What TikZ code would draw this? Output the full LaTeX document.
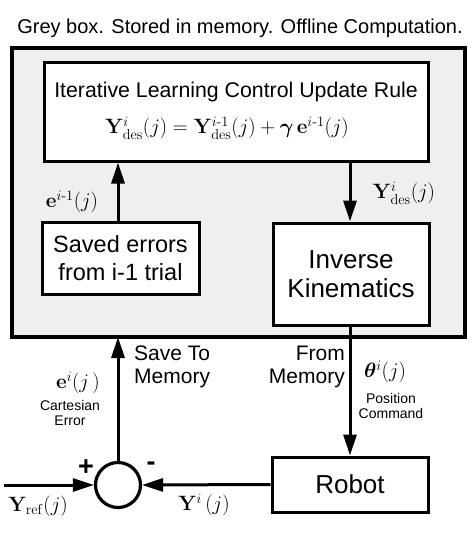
\documentclass[tikz,border=0pt]{standalone}
\usepackage{amsmath,bm}
\usepackage[no-math]{fontspec}
\newfontfamily\arialf{Liberation Sans}
\usetikzlibrary{arrows.meta}
\definecolor{greyfill}{HTML}{EEF0F0}
\tikzset{
  blk/.style={draw, line width=3pt, fill=white, inner sep=0pt},
  conn/.style={line width=3pt, -{Triangle[length=21pt,width=13pt]}},
  plain/.style={line width=3pt},
  lbl/.style={inner sep=0pt, font=\arialf},
}
\newcommand{\fsz}[1]{\fontsize{#1}{#1}\selectfont}
\begin{document}
\begin{tikzpicture}[x=1pt,y=-1pt]
\useasboundingbox (0,0) rectangle (474,536);
% title
\node[lbl, font=\arialf\fsz{20}] (title) at (240,28) {Grey box. Stored in memory. Offline Computation.};
% grey box
\draw[line width=3.8pt, fill=greyfill] (12,48) rectangle (465,337);
\coordinate (greybot) at (118,337);
% ILC box
\node[blk, minimum width=384pt, minimum height=99pt] (ilc) at (236,111.5) {};
\node[lbl, font=\arialf\fsz{21.3}] (ilct) at (236,92) {Iterative Learning Control Update Rule};
\node[lbl, font=\fsz{20.7}] (ilceq) at (227,128) {$\mathbf{Y}^{i}_{\mathrm{des}}(j) = \mathbf{Y}^{i\text{-}1}_{\mathrm{des}}(j) + \boldsymbol{\gamma}\,\mathbf{e}^{i\text{-}1}(j)$};
% saved errors
\node[blk, minimum width=157pt, minimum height=72pt, align=center, font=\arialf\fsz{23.5}] (saved) at (120.5,258) {Saved errors\\[4pt]from i-1 trial};
% inverse kinematics
\node[blk, minimum width=156pt, minimum height=102pt, align=center, font=\arialf\fsz{26}] (ik) at (351,274) {Inverse\\[3pt]Kinematics};
% robot
\node[blk, minimum width=156pt, minimum height=55pt, font=\arialf\fsz{26}] (robot) at (350,484.5) {Robot};
% summing junction
\node[draw, circle, line width=3.2pt, minimum size=45pt, inner sep=0pt] (sum) at (118,485) {};
\coordinate (inp) at (4,485);
% connectors
\draw[conn] (saved.north -| 118,0) -- (ilc.south -| 118,0);
\draw[conn] (ilc.south -| 350,0) -- (ik.north -| 350,0);
\draw[conn] (sum.north) -- (greybot);
\draw[conn] (ik.south -| 350,0) -- (robot.north -| 350,0);
\draw[conn] (robot.west) -- (sum.east);
\draw[conn] (inp) -- (sum.west);
% labels
\node[lbl, font=\fsz{21}] (lerr) at (72,202) {$\mathbf{e}^{i\text{-}1}(j)$};
\node[lbl, font=\fsz{21}] (lydes) at (404,193) {$\mathbf{Y}^{i}_{\mathrm{des}}(j)$};
\node[lbl, font=\arialf\fsz{21}, align=left, anchor=west] (lsave) at (134,367) {Save To\\[2pt]Memory};
\node[lbl, font=\arialf\fsz{21}, align=right, anchor=east] (lfrom) at (345,367) {From\\[2pt]Memory};
\node[lbl, font=\fsz{21}] (ltheta) at (385,372) {$\boldsymbol{\theta}^{i}(j)$};
\node[lbl, font=\arialf\fsz{14}, align=center] (lpos) at (391,406) {Position\\[1pt]Command};
\node[lbl, font=\fsz{21}] (lei) at (78,383) {$\mathbf{e}^{i}(j\,)$};
\node[lbl, font=\arialf\fsz{14}, align=center] (lcart) at (70,413) {Cartesian\\[1pt]Error};
\node[lbl, font=\arialf\bfseries\fsz{27}] (lplus) at (86,468) {+};
\node[lbl, font=\arialf\bfseries\fsz{27}] (lminus) at (151,466) {-};
\node[lbl, font=\fsz{21}] (lyref) at (38,506) {$\mathbf{Y}_{\mathrm{ref}}(j)$};
\node[lbl, font=\fsz{21}] (lyi) at (204,505) {$\mathbf{Y}^{i}\,(j)$};
\end{tikzpicture}
\end{document}
